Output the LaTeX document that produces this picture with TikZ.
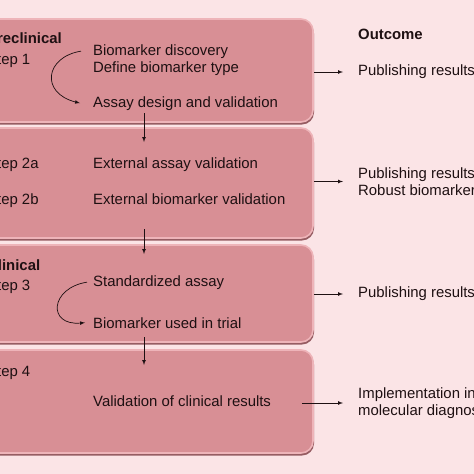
\documentclass[tikz,border=0pt]{standalone}
\usepackage{fontspec}
\setmainfont{Liberation Sans}
\usetikzlibrary{shapes,arrows,positioning,shadows,calc}
\usepackage{xcolor}

\definecolor{bgpink}{RGB}{251,228,230}
\definecolor{boxfill}{RGB}{216,143,149}
\definecolor{boxrim}{RGB}{238,180,185}
\definecolor{boxshade}{RGB}{150,92,98}
\definecolor{txtdark}{RGB}{30,16,18}

\begin{document}
\begin{tikzpicture}[x=1pt, y=-1pt, font=\fontsize{14.9}{17}\selectfont, text=txtdark]

  % Define styles for stages and texts
  \tikzstyle{stage} = [rectangle, rounded corners=12pt, fill=boxfill, draw=boxrim, line width=1.6pt, minimum width=343pt,
                       drop shadow={shadow xshift=1pt, shadow yshift=-2.5pt, fill=boxshade, opacity=1}]
  \tikzstyle{txt} = [inner sep=0pt, anchor=base west]
  \tikzstyle{outtxt} = [inner sep=0pt, anchor=west, align=left]
  \tikzstyle{flow} = [->, >=latex, line width=0.7pt, draw=txtdark]

  % Background and frame
  \useasboundingbox (0,0) rectangle (474,474);
  \fill[bgpink] (0,0) rectangle (474,474);
  \clip (0,0) rectangle (474,474);

  % Stages
  \node[stage, minimum height=103pt] (box1) at (141.5,70.5) {};
  \node[stage, minimum height=110pt] (box2) at (141.5,183) {};
  \node[stage, minimum height=97pt] (box3) at (141.5,293.5) {};
  \node[stage, minimum height=103pt] (box4) at (141.5,401.5) {};

  % Phase and step labels
  \node[txt, font=\fontsize{14.9}{17}\selectfont\bfseries] (pre) at (-13,43.5) {Preclinical};
  \node[txt] (st1) at (-13,64) {Step 1};
  \node[txt] (st2a) at (-13,168) {Step 2a};
  \node[txt] (st2b) at (-13,204) {Step 2b};
  \node[txt, font=\fontsize{14.9}{17}\selectfont\bfseries] (clin) at (-13,270) {Clinical};
  \node[txt] (st3) at (-13,290) {Step 3};
  \node[txt] (st4) at (-13,376) {Step 4};

  % Tasks
  \node[txt] (disc) at (93,55) {Biomarker discovery};
  \node[txt] (deftype) at (93,72) {Define biomarker type};
  \node[txt] (assay) at (93,107) {Assay design and validation};
  \node[txt] (extassay) at (93,168) {External assay validation};
  \node[txt] (extbio) at (93,204) {External biomarker validation};
  \node[txt] (stdassay) at (93,286) {Standardized assay};
  \node[txt] (used) at (93,328) {Biomarker used in trial};
  \node[txt] (valid) at (93,406) {Validation of clinical results};

  % Outcomes
  \node[txt, font=\fontsize{14.9}{17}\selectfont\bfseries] (outhead) at (358,39) {Outcome};
  \node[outtxt] (out1) at (358,72) {Publishing results};
  \node[outtxt] (out2) at (358,181.5) {Publishing results\\Robust biomarker};
  \node[outtxt] (out3) at (358,294) {Publishing results};
  \node[outtxt] (out4) at (358,403) {Implementation in\\molecular diagnostics};

  % Loops inside steps 1 and 3
  \draw[flow] ([xshift=-12pt]disc.west) .. controls (45,57) and (40,93) .. ([xshift=-13pt]assay.west);
  \draw[flow] ([xshift=-6pt]stdassay.west) .. controls (50,288) and (47,326) .. ([xshift=-8pt]used.west);

  % Flow between steps
  \coordinate (v1a) at (144,113);
  \coordinate (v1b) at (144,142);
  \coordinate (v2a) at (144,229);
  \coordinate (v2b) at (144,254);
  \coordinate (v3a) at (144,337);
  \coordinate (v3b) at (144,365);
  \draw[flow] (v1a) -- (v1b);
  \draw[flow] (v2a) -- (v2b);
  \draw[flow] (v3a) -- (v3b);

  % Outcome arrows
  \draw[flow] (box1.east |- out1.west) -- ([xshift=-15pt]out1.west);
  \draw[flow] (box2.east |- out2.west) -- ([xshift=-15pt]out2.west);
  \draw[flow] (box3.east |- out3.west) -- ([xshift=-15pt]out3.west);
  \draw[flow] ($(box4.east |- out4.west)+(-12,0)$) -- ([xshift=-15pt]out4.west);

\end{tikzpicture}
\end{document}
